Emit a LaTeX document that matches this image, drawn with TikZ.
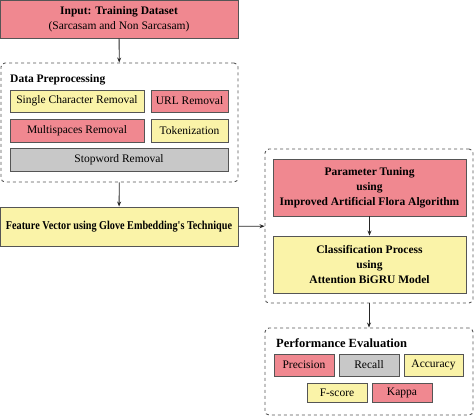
\documentclass[tikz,border=0pt]{standalone}
\usepackage{fontspec}
\setmainfont{Liberation Serif}
\newfontfamily\narrowserif[FakeStretch=0.85]{Liberation Serif}
\usetikzlibrary{arrows.meta}
\definecolor{boxred}{RGB}{240,136,144}
\definecolor{boxyellow}{RGB}{250,243,168}
\definecolor{boxgray}{RGB}{200,200,200}
\definecolor{edgegray}{RGB}{85,85,85}

\begin{document}
\begin{tikzpicture}[
    x=1pt, y=-1pt,
    step box/.style={rectangle, draw=edgegray, line width=0.9pt, inner sep=0pt, align=center, font=\fontsize{11.5}{15}\selectfont},
    red box/.style={step box, fill=boxred},
    yellow box/.style={step box, fill=boxyellow},
    gray box/.style={step box, fill=boxgray},
    group box/.style={rectangle, draw=edgegray, dashed, line width=0.9pt, rounded corners=4pt, inner sep=0pt},
    group title/.style={anchor=west, inner sep=0pt, font=\fontsize{11.5}{15}\selectfont\bfseries},
    flow/.style={-{Stealth[length=5pt,width=4pt]}, line width=0.8pt, draw=black!85}
]
\useasboundingbox (0,0) rectangle (474,416);

% Eingabe und Vorverarbeitung
\node[red box, minimum width=238pt, minimum height=38pt] (In) at (119,19) {\textbf{Input: Training Dataset}\\(Sarcasam and Non Sarcasam)};
\node[group box, minimum width=237pt, minimum height=119pt] (Prep) at (119.5,122.5) {};
\node[group title] (PrepT) at (10,80) {Data Preprocessing};
\node[yellow box, minimum width=134pt, minimum height=22pt] (Single) at (77,101) {Single Character Removal};
\node[red box, minimum width=77pt, minimum height=22pt] (Url) at (189.5,101) {URL Removal};
\node[red box, minimum width=134pt, minimum height=23pt] (Multi) at (77,130.5) {Multispaces Removal};
\node[yellow box, minimum width=77pt, minimum height=23pt] (Token) at (189.5,130.5) {Tokenization};
\node[gray box, minimum width=218pt, minimum height=23pt] (Stop) at (119,159.5) {Stopword Removal};

\node[yellow box, minimum width=238pt, minimum height=39pt, font=\fontsize{12}{15}\narrowserif\bfseries] (Feat) at (119,226.5) {Feature Vector using Glove Embedding's Technique};

% Modell
\node[group box, minimum width=208pt, minimum height=154pt] (Model) at (369,226) {};
\node[red box, minimum width=193pt, minimum height=57pt, font=\fontsize{11.5}{15}\selectfont\bfseries] (Tune) at (369.5,187.5) {Parameter Tuning\\using\\Improved Artificial Flora Algorithm};
\node[yellow box, minimum width=193pt, minimum height=57pt, font=\fontsize{11.5}{15}\selectfont\bfseries] (Class) at (369.5,264.5) {Classification Process\\using\\Attention BiGRU Model};

% Bewertung
\node[group box, minimum width=208pt, minimum height=87pt] (Perf) at (369,371.5) {};
\node[group title, font=\fontsize{12.5}{15}\selectfont\bfseries] (PerfT) at (276,343) {Performance Evaluation};
\node[red box, minimum width=60pt, minimum height=22pt] (Prec) at (304,365) {Precision};
\node[gray box, minimum width=60pt, minimum height=22pt] (Rec) at (369,365) {Recall};
\node[yellow box, minimum width=59pt, minimum height=22pt] (Acc) at (433.5,365) {Accuracy};
\node[yellow box, minimum width=60pt, minimum height=19pt] (Fsc) at (337,392.5) {F-score};
\node[red box, minimum width=60pt, minimum height=19pt] (Kap) at (402,392.5) {Kappa};

% Pfeile
\draw[flow] (In) -- (Prep);
\draw[flow] (Prep) -- (Feat);
\draw[flow] (Feat) -- (Model);
\draw[flow] (Tune) -- (Class);
\draw[flow] (Model) -- (Perf);

\end{tikzpicture}
\end{document}
